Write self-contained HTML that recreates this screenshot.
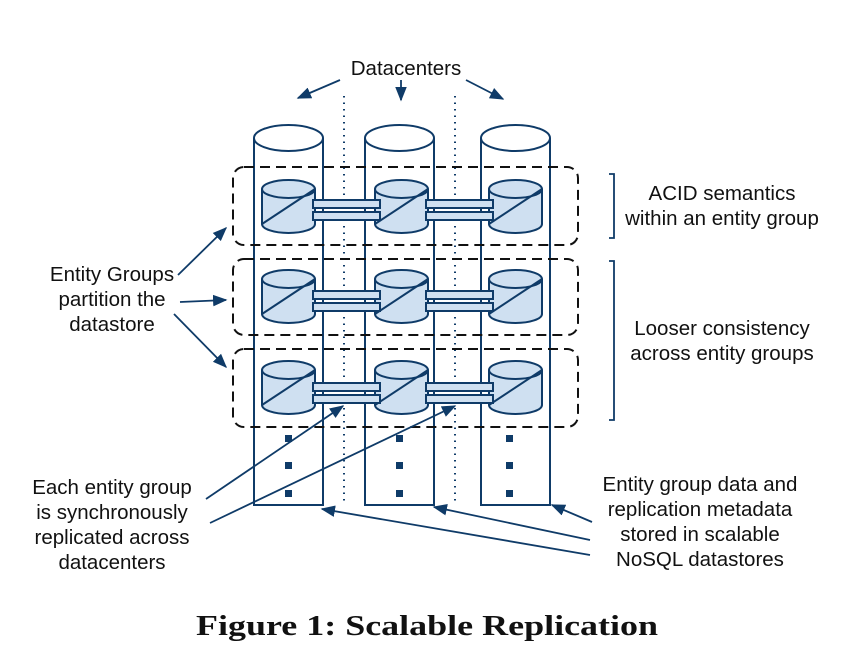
<!DOCTYPE html>
<html><head><style>body{margin:0;background:#fff}</style></head><body>
<svg width="863" height="658" viewBox="0 0 863 658" xmlns="http://www.w3.org/2000/svg" font-family="Liberation Sans, sans-serif">
<defs>
<marker id="a" viewBox="0 0 10 10" refX="9" refY="5" markerWidth="8" markerHeight="8" orient="auto"><path d="M0,1 L10,5 L0,9 z" fill="#0f3b68"/></marker>
<g id="sc">
<path d="M0,9 L0,44 A26.5,9 0 0 0 53,44 L53,9" fill="#cfe0f1" stroke="#0f3b68" stroke-width="2"/>
<ellipse cx="26.5" cy="9" rx="26.5" ry="9" fill="#cfe0f1" stroke="#0f3b68" stroke-width="2"/>
<line x1="0" y1="44" x2="53" y2="9" stroke="#0f3b68" stroke-width="2"/>
</g>
<g id="br">
<rect x="0" y="0" width="67" height="8" fill="#cfe0f1" stroke="#0f3b68" stroke-width="2"/>
<rect x="0" y="12" width="67" height="8" fill="#cfe0f1" stroke="#0f3b68" stroke-width="2"/>
</g>
</defs>
<g stroke="#0f3b68" stroke-width="2" fill="#fff">
<path d="M254,138 L254,505 L323,505 L323,138"/><ellipse cx="288.5" cy="138" rx="34.5" ry="13"/>
<path d="M365,138 L365,505 L434,505 L434,138"/><ellipse cx="399.5" cy="138" rx="34.5" ry="13"/>
<path d="M481,138 L481,505 L550,505 L550,138"/><ellipse cx="515.5" cy="138" rx="34.5" ry="13"/>
</g>
<g stroke="#0f3b68" stroke-width="2" stroke-dasharray="1.5 5"><line x1="344" y1="96" x2="344" y2="505"/><line x1="455" y1="96" x2="455" y2="505"/></g>
<g fill="none" stroke="#111" stroke-width="2" stroke-dasharray="10 6">
<rect x="233" y="167" width="345" height="78" rx="11"/>
<rect x="233" y="259" width="345" height="76" rx="11"/>
<rect x="233" y="349" width="345" height="78" rx="11"/>
</g>
<use href="#sc" x="262" y="180"/><use href="#sc" x="375" y="180"/><use href="#sc" x="489" y="180"/>
<use href="#sc" x="262" y="270"/><use href="#sc" x="375" y="270"/><use href="#sc" x="489" y="270"/>
<use href="#sc" x="262" y="361"/><use href="#sc" x="375" y="361"/><use href="#sc" x="489" y="361"/>
<use href="#br" x="313" y="200"/><use href="#br" x="426" y="200"/>
<use href="#br" x="313" y="291"/><use href="#br" x="426" y="291"/>
<use href="#br" x="313" y="383"/><use href="#br" x="426" y="383"/>
<g fill="#0f3b68">
<rect x="285" y="435" width="7" height="7"/><rect x="285" y="462" width="7" height="7"/><rect x="285" y="490" width="7" height="7"/>
<rect x="396" y="435" width="7" height="7"/><rect x="396" y="462" width="7" height="7"/><rect x="396" y="490" width="7" height="7"/>
<rect x="506" y="435" width="7" height="7"/><rect x="506" y="462" width="7" height="7"/><rect x="506" y="490" width="7" height="7"/>
</g>
<g stroke="#0f3b68" stroke-width="1.8" fill="none" marker-end="url(#a)">
<line x1="340" y1="80" x2="298" y2="98"/><line x1="401" y1="80" x2="401" y2="100"/><line x1="466" y1="80" x2="503" y2="99"/>
<line x1="178" y1="275" x2="226" y2="228"/><line x1="180" y1="302" x2="226" y2="300"/><line x1="174" y1="314" x2="226" y2="367"/>
<line x1="206" y1="499" x2="343" y2="406"/><line x1="210" y1="523" x2="455" y2="406"/>
<line x1="590" y1="555" x2="322" y2="509"/><line x1="590" y1="540" x2="434" y2="507"/><line x1="592" y1="522" x2="552" y2="505"/>
</g>
<g stroke="#0f3b68" stroke-width="1.8" fill="none">
<path d="M609,174 L614,174 L614,238 L609,238"/>
<path d="M609,261 L614,261 L614,420 L609,420"/>
</g>
<g font-size="20.5" fill="#111" text-anchor="middle">
<text x="406" y="75">Datacenters</text>
<text x="722" y="200">ACID semantics</text><text x="722" y="225">within an entity group</text>
<text x="722" y="335">Looser consistency</text><text x="722" y="360">across entity groups</text>
<text x="112" y="281">Entity Groups</text><text x="112" y="306">partition the</text><text x="112" y="331">datastore</text>
<text x="112" y="494">Each entity group</text><text x="112" y="519">is synchronously</text><text x="112" y="544">replicated across</text><text x="112" y="569">datacenters</text>
<text x="700" y="491">Entity group data and</text><text x="700" y="516">replication metadata</text><text x="700" y="541">stored in scalable</text><text x="700" y="566">NoSQL datastores</text>
</g>
<text x="196" y="635" font-family="Liberation Serif, serif" font-weight="bold" font-size="28" textLength="462" lengthAdjust="spacingAndGlyphs" fill="#111">Figure 1: Scalable Replication</text>
</svg>
</body></html>
